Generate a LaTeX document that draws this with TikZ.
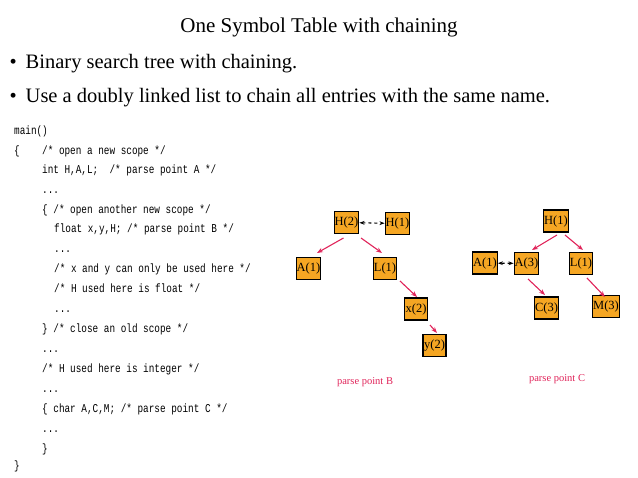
\documentclass[tikz,border=0pt]{standalone}
\usepackage{fontspec}
\setmainfont{Liberation Serif}
\setmonofont{Liberation Mono}
\usetikzlibrary{arrows.meta,calc}
\definecolor{boxfill}{HTML}{F5A623}
\definecolor{rd}{HTML}{E0245A}
\begin{document}
\begin{tikzpicture}[x=1pt,y=-1pt,
  bx/.style={draw=black,line width=1.3pt,fill=boxfill,inner sep=0.5pt,minimum width=23pt,minimum height=22pt,font=\fontsize{12.5}{12.5}\selectfont},
  ra/.style={draw=rd,line width=1.1pt,-{Stealth[length=6pt]}},
  da/.style={draw=black,line width=1.1pt,dashed,{Stealth[length=5pt]}-{Stealth[length=5pt]}},
  cl/.style={anchor=base west,inner sep=0pt,font=\fontsize{12}{12}\ttfamily,xscale=0.78,transform shape},
  lbl/.style={text=rd,font=\fontsize{10.5}{10.5}\selectfont}]
\useasboundingbox (0,0) rectangle (638,478);
\node[font=\fontsize{21}{21}\selectfont] (title) at (319,27) {One Symbol Table with chaining};
\node[anchor=west,font=\fontsize{20.5}{20.5}\selectfont] (b1) at (6,64) {•\hspace{9pt}Binary search tree with chaining.};
\node[anchor=west,font=\fontsize{20.5}{20.5}\selectfont] (b2) at (6,98) {•\hspace{9pt}Use a doubly linked list to chain all entries with the same name.};
% code
\node[cl] (c1) at (14,135) {main()};
\node[cl] (c2) at (14,155) {\{};
\node[cl] (c2b) at (42,155) {/* open a new scope */};
\node[cl] (c3) at (42,174) {int H,A,L;\ \ /* parse point A */};
\node[cl] (c4) at (42,194) {...};
\node[cl] (c5) at (42,214) {\{ /* open another new scope */};
\node[cl] (c6) at (54,233) {float x,y,H; /* parse point B */};
\node[cl] (c7) at (54,253) {...};
\node[cl] (c8) at (54,273) {/* x and y can only be used here */};
\node[cl] (c9) at (54,293) {/* H used here is float */};
\node[cl] (c10) at (54,313) {...};
\node[cl] (c11) at (42,333) {\} /* close an old scope */};
\node[cl] (c12) at (42,353) {...};
\node[cl] (c13) at (42,373) {/* H used here is integer */};
\node[cl] (c14) at (42,393) {...};
\node[cl] (c15) at (42,413) {\{ char A,C,M; /* parse point C */};
\node[cl] (c16) at (42,433) {...};
\node[cl] (c17) at (42,453) {\}};
\node[cl] (c18) at (14,470) {\}};
% tree B
\node[bx] (h2) at (346.5,222.5) {H(2)};
\node[bx] (h1) at (397.5,223.5) {H(1)};
\node[bx] (a1) at (308.5,268.5) {A(1)};
\node[bx] (l1) at (385,268.5) {L(1)};
\node[bx] (x2) at (416,309) {x(2)};
\node[bx] (y2) at (434.5,345.5) {y(2)};
\draw[da] (h2) -- (h1);
\draw[ra] ($(h2)+(-3,15.5)$) -- ($(a1)+(8.5,-15.5)$);
\draw[ra] ($(h2)+(14.5,15.5)$) -- ($(l1)+(-3,-15.5)$);
\draw[ra] ($(l1)+(15,12.5)$) -- ($(x2)+(1,-12)$);
\draw[ra] ($(x2)+(14,16)$) -- ($(y2)+(2.5,-12.5)$);
\node[lbl] (pb) at (365,382) {parse point B};
% tree C
\node[bx] (ch1) at (556,221) {H(1)};
\node[bx] (ca1) at (485,263) {A(1)};
\node[bx] (ca3) at (526.5,263.5) {A(3)};
\node[bx] (cl1) at (581,263.5) {L(1)};
\node[bx] (cc3) at (546.5,308) {C(3)};
\node[bx] (cm3) at (606,306.5) {M(3)};
\draw[da] (ca3) -- (ca1);
\draw[ra] ($(ch1)+(1,14)$) -- ($(ca3)+(5.5,-13.5)$);
\draw[ra] ($(ch1)+(9,14)$) -- ($(cl1)+(2,-13.5)$);
\draw[ra] ($(ca3)+(1.5,15.5)$) -- ($(cc3)+(-1.5,-13)$);
\draw[ra] ($(cl1)+(6,14.5)$) -- ($(cm3)+(-1,-9.5)$);
\node[lbl] (pc) at (557,379) {parse point C};
\end{tikzpicture}
\end{document}
